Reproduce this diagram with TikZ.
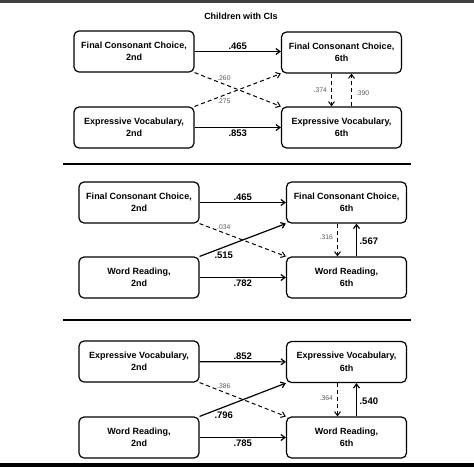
\documentclass[tikz,border=0pt]{standalone}
\usepackage{fontspec}
\setmainfont{Liberation Sans}
\usetikzlibrary{arrows.meta,positioning}

\tikzset{
  box/.style={draw, line width=1.2pt, rounded corners=5pt, minimum width=120pt,
    minimum height=41pt, inner sep=0pt, align=center},
  solidarr/.style={line width=1.2pt, ->},
  dasharr/.style={line width=1pt, dash pattern=on 4pt off 3pt, ->},
  coef/.style={font=\bfseries\fontsize{9.5}{10}\selectfont, inner sep=1.5pt},
  smallcoef/.style={font=\fontsize{6.8}{7}\selectfont, text=black!65, inner sep=1pt}
}

\begin{document}
\begin{tikzpicture}[x=1pt, y=-1pt, >={Straight Barb[length=4pt,width=6pt]},
  font=\bfseries\fontsize{9}{12.5}\selectfont]
	\useasboundingbox (0,0) rectangle (474,467);
	\fill[black!75] (0,0) rectangle (474,3);
	\fill[black] (0,463) rectangle (474,467);

	\node (title) at (241,16) {Children with CIs};

	% Panel 1
	\node[box] (fcc2a) at (134,51.5) {Final Consonant Choice,\\2nd};
	\node[box] (fcc6a) at (341.5,52.5) {Final Consonant Choice,\\6th};
	\node[box] (ev2a) at (134,127.5) {Expressive Vocabulary,\\2nd};
	\node[box] (ev6a) at (341.5,127.5) {Expressive Vocabulary,\\6th};

	\draw[solidarr] (fcc2a.east) -- (fcc2a.east -| fcc6a.west) node[coef, midway, above] {.465};
	\draw[solidarr] (ev2a) -- (ev6a) node[coef, midway, below] {.853};
	\draw[dasharr] (fcc2a.south east) -- (ev6a.north west) node[smallcoef, pos=0.34, above=2pt] {.260};
	\draw[dasharr] (ev2a.north east) -- (fcc6a.south west) node[smallcoef, pos=0.34, below=2pt] {.275};
	\draw[dasharr] ([xshift=-10pt]fcc6a.south) -- ([xshift=-10pt]ev6a.north) node[smallcoef, midway, left=3pt] {.374};
	\draw[dasharr] ([xshift=10pt]ev6a.north) -- ([xshift=10pt]fcc6a.south) node[smallcoef, pos=0.4, right=3pt] {.390};

	\draw[line width=1.1pt] (63,164) -- (411,164);

	% Panel 2
	\node[box] (fcc2b) at (139,202.5) {Final Consonant Choice,\\2nd};
	\node[box] (fcc6b) at (346.5,202.5) {Final Consonant Choice,\\6th};
	\node[box] (wr2b) at (139,277.5) {Word Reading,\\2nd};
	\node[box] (wr6b) at (346.5,277.5) {Word Reading,\\6th};

	\draw[solidarr] (fcc2b) -- (fcc6b) node[coef, midway, above] {.465};
	\draw[solidarr] (wr2b) -- (wr6b) node[coef, midway, below] {.782};
	\draw[dasharr] (fcc2b.south east) -- (wr6b.north west) node[smallcoef, pos=0.28, above=2pt] {.034};
	\draw[solidarr] (wr2b.north east) -- (fcc6b.south west) node[coef, pos=0.28, below=3pt] {.515};
	\draw[dasharr] ([xshift=-9pt]fcc6b.south) -- ([xshift=-9pt]wr6b.north) node[smallcoef, pos=0.4, left=3pt] {.316};
	\draw[solidarr] ([xshift=10pt]wr6b.north) -- ([xshift=10pt]fcc6b.south) node[coef, pos=0.45, right=1pt] {.567};

	\draw[line width=1.1pt] (63,320) -- (411,320);

	% Panel 3
	\node[box] (ev2c) at (139,361.5) {Expressive Vocabulary,\\2nd};
	\node[box] (ev6c) at (346.5,362) {Expressive Vocabulary,\\6th};
	\node[box] (wr2c) at (139,437.5) {Word Reading,\\2nd};
	\node[box] (wr6c) at (346.5,437.5) {Word Reading,\\6th};

	\draw[solidarr] (ev2c) -- (ev6c) node[coef, midway, above] {.852};
	\draw[solidarr] (wr2c) -- (wr6c) node[coef, midway, below] {.785};
	\draw[dasharr] (ev2c.south east) -- (wr6c.north west) node[smallcoef, pos=0.28, above=2pt] {.386};
	\draw[solidarr] (wr2c.north east) -- (ev6c.south west) node[coef, pos=0.28, below=3pt] {.796};
	\draw[dasharr] ([xshift=-9pt]ev6c.south) -- ([xshift=-9pt]wr6c.north) node[smallcoef, pos=0.45, left=3pt] {.364};
	\draw[solidarr] ([xshift=10pt]wr6c.north) -- ([xshift=10pt]ev6c.south) node[coef, pos=0.45, right=1pt] {.540};
\end{tikzpicture}
\end{document}
